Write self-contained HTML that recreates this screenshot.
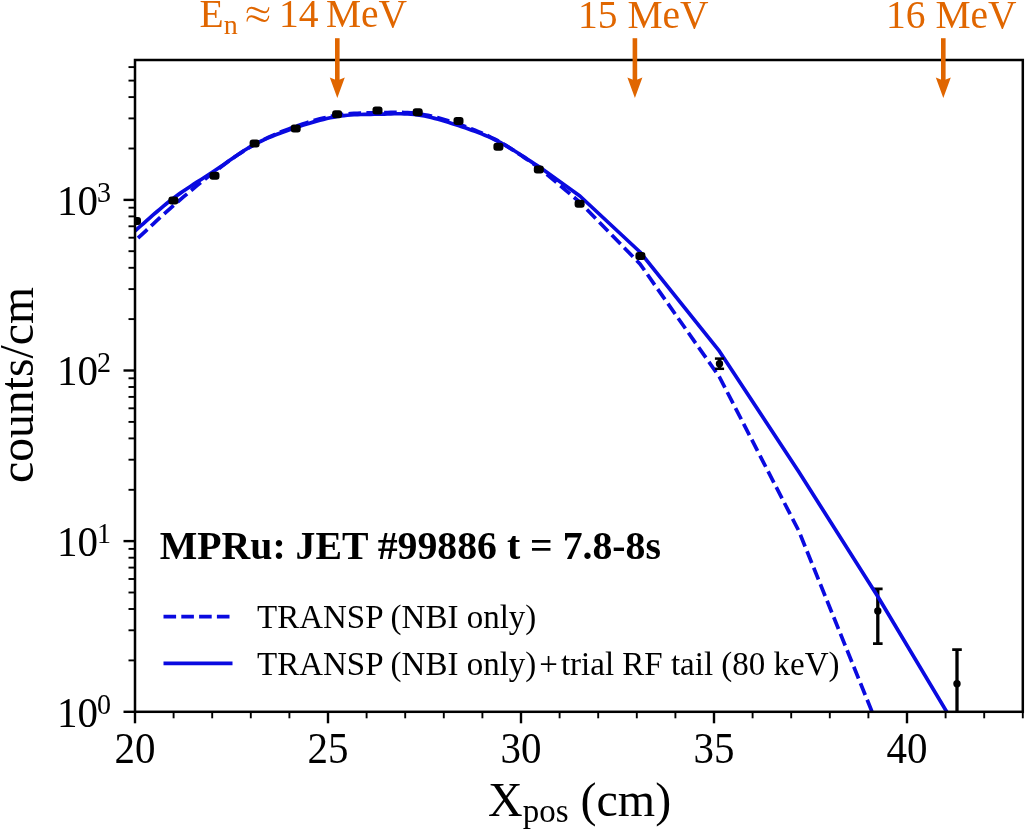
<!DOCTYPE html>
<html><head><meta charset="utf-8"><style>
html,body{margin:0;padding:0;background:#fff;}
svg{display:block;}
text{font-family:"Liberation Serif","Times New Roman",serif;}
</style></head><body>
<svg width="1025" height="831" viewBox="0 0 1025 831">
<rect width="1025" height="831" fill="#fff"/>
<defs><clipPath id="ax"><rect x="135.0" y="60.0" width="887.8" height="651.8"/></clipPath></defs>
<g clip-path="url(#ax)">
<g stroke="#000" stroke-width="3.3" fill="none"><line x1="877.8" y1="588.9" x2="877.8" y2="643.7"/><line x1="873.0" y1="588.9" x2="882.5999999999999" y2="588.9" stroke-width="2.7"/><line x1="873.0" y1="643.7" x2="882.5999999999999" y2="643.7" stroke-width="2.7"/><line x1="957.0" y1="649.6" x2="957.0" y2="720.0"/><line x1="952.2" y1="649.6" x2="961.8" y2="649.6" stroke-width="2.7"/><line x1="719.5" y1="358.6" x2="719.5" y2="368.8"/></g>
<path d="M125.00,250.12 L125.45,249.71 L125.89,249.30 L126.36,248.87 L126.87,248.39 L127.47,247.85 L128.16,247.21 L128.99,246.45 L129.97,245.55 L131.14,244.47 L132.51,243.21 L134.12,241.73 L136.00,240.00 L138.18,237.98 L140.66,235.66 L143.41,233.09 L146.37,230.31 L149.52,227.36 L152.82,224.28 L156.22,221.12 L159.68,217.92 L163.17,214.73 L166.65,211.58 L170.07,208.52 L173.40,205.60 L176.70,202.74 L180.05,199.86 L183.44,196.96 L186.86,194.05 L190.31,191.15 L193.78,188.26 L197.26,185.40 L200.74,182.57 L204.21,179.79 L207.67,177.06 L211.10,174.39 L214.50,171.80 L217.87,169.26 L221.23,166.75 L224.57,164.28 L227.90,161.84 L231.23,159.45 L234.55,157.11 L237.87,154.83 L241.20,152.60 L244.53,150.44 L247.87,148.35 L251.23,146.33 L254.60,144.40 L257.99,142.55 L261.39,140.78 L264.80,139.08 L268.21,137.45 L271.64,135.89 L275.07,134.39 L278.50,132.94 L281.94,131.55 L285.38,130.20 L288.82,128.90 L292.26,127.63 L295.70,126.40 L299.14,125.20 L302.59,124.04 L306.05,122.92 L309.51,121.84 L312.98,120.81 L316.44,119.83 L319.91,118.90 L323.36,118.03 L326.81,117.22 L330.25,116.48 L333.68,115.80 L337.10,115.20 L340.50,114.68 L343.89,114.25 L347.28,113.91 L350.65,113.63 L354.01,113.41 L357.38,113.25 L360.73,113.13 L364.09,113.04 L367.44,112.97 L370.79,112.91 L374.14,112.86 L377.50,112.80 L380.86,112.72 L384.20,112.63 L387.55,112.55 L390.89,112.47 L394.23,112.41 L397.57,112.39 L400.92,112.41 L404.26,112.49 L407.61,112.64 L410.97,112.86 L414.33,113.18 L417.70,113.60 L421.08,114.12 L424.48,114.73 L427.88,115.42 L431.30,116.18 L434.71,117.01 L438.13,117.90 L441.55,118.85 L444.96,119.84 L448.36,120.88 L451.76,121.96 L455.14,123.07 L458.50,124.20 L461.84,125.35 L465.17,126.53 L468.48,127.74 L471.78,128.98 L475.07,130.27 L478.36,131.61 L481.65,133.00 L484.94,134.45 L488.24,135.97 L491.54,137.57 L494.86,139.24 L498.20,141.00 L501.68,142.95 L505.38,145.16 L509.24,147.56 L513.17,150.10 L517.11,152.70 L520.98,155.30 L524.72,157.85 L528.24,160.27 L531.48,162.51 L534.37,164.50 L536.84,166.19 L538.80,167.50 L579.90,202.30 L640.00,263.90 L719.40,376.90 L798.60,530.50 L877.80,726.00" fill="none" stroke="#0a0ae0" stroke-width="3.7" stroke-dasharray="12.6 5.2"/>
<path d="M125.00,239.35 L125.45,238.97 L125.89,238.60 L126.36,238.20 L126.87,237.76 L127.47,237.26 L128.16,236.66 L128.99,235.96 L129.97,235.13 L131.14,234.14 L132.51,232.97 L134.12,231.60 L136.00,230.00 L138.18,228.12 L140.66,225.95 L143.41,223.53 L146.37,220.90 L149.52,218.12 L152.82,215.23 L156.22,212.27 L159.68,209.31 L163.17,206.37 L166.65,203.51 L170.07,200.77 L173.40,198.20 L176.70,195.76 L180.05,193.37 L183.44,191.02 L186.86,188.70 L190.31,186.42 L193.78,184.16 L197.26,181.92 L200.74,179.70 L204.21,177.48 L207.67,175.26 L211.10,173.03 L214.50,170.80 L217.87,168.53 L221.23,166.23 L224.57,163.90 L227.90,161.57 L231.23,159.24 L234.55,156.94 L237.87,154.67 L241.20,152.45 L244.53,150.30 L247.87,148.23 L251.23,146.26 L254.60,144.40 L257.99,142.65 L261.39,140.98 L264.80,139.39 L268.21,137.88 L271.64,136.43 L275.07,135.04 L278.50,133.71 L281.94,132.42 L285.38,131.17 L288.82,129.96 L292.26,128.77 L295.70,127.60 L299.14,126.45 L302.59,125.32 L306.05,124.22 L309.51,123.15 L312.98,122.13 L316.44,121.14 L319.91,120.21 L323.36,119.34 L326.81,118.52 L330.25,117.77 L333.68,117.10 L337.10,116.50 L340.50,115.99 L343.89,115.57 L347.28,115.24 L350.65,114.97 L354.01,114.77 L357.38,114.61 L360.73,114.50 L364.09,114.42 L367.44,114.36 L370.79,114.31 L374.14,114.26 L377.50,114.20 L380.86,114.12 L384.20,114.03 L387.55,113.93 L390.89,113.84 L394.23,113.77 L397.57,113.74 L400.92,113.75 L404.26,113.81 L407.61,113.95 L410.97,114.17 L414.33,114.48 L417.70,114.90 L421.08,115.43 L424.48,116.05 L427.88,116.75 L431.30,117.54 L434.71,118.39 L438.13,119.31 L441.55,120.27 L444.96,121.29 L448.36,122.33 L451.76,123.41 L455.14,124.50 L458.50,125.60 L461.84,126.71 L465.17,127.83 L468.48,128.97 L471.78,130.14 L475.07,131.35 L478.36,132.59 L481.65,133.89 L484.94,135.25 L488.24,136.67 L491.54,138.16 L494.86,139.74 L498.20,141.40 L501.68,143.25 L505.38,145.35 L509.24,147.63 L513.17,150.04 L517.11,152.51 L520.98,154.99 L524.72,157.41 L528.24,159.72 L531.48,161.85 L534.37,163.75 L536.84,165.35 L538.80,166.60 L579.90,196.00 L640.00,252.00 L719.40,351.20 L798.60,471.50 L877.80,596.50 L957.00,729.00" fill="none" stroke="#0a0ae0" stroke-width="3.7" stroke-linejoin="round"/>
<g stroke="#000" stroke-width="2.5"><line x1="714.9" y1="358.6" x2="724.1" y2="358.6"/><line x1="714.9" y1="368.8" x2="724.1" y2="368.8"/></g>
<g fill="#000"><rect x="131.0" y="217.0" width="10" height="8.0" rx="3"/><rect x="168.4" y="196.4" width="10" height="8.0" rx="3"/><rect x="209.5" y="171.7" width="10" height="8.0" rx="3"/><rect x="249.6" y="139.6" width="10" height="8.0" rx="3"/><rect x="290.7" y="124.4" width="10" height="8.0" rx="3"/><rect x="332.1" y="110.3" width="10" height="8.0" rx="3"/><rect x="372.5" y="106.6" width="10" height="8.0" rx="3"/><rect x="412.7" y="108.3" width="10" height="8.0" rx="3"/><rect x="453.5" y="116.9" width="10" height="8.0" rx="3"/><rect x="493.4" y="142.7" width="10" height="8.0" rx="3"/><rect x="533.8" y="165.6" width="10" height="8.0" rx="3"/><rect x="574.6" y="199.7" width="10" height="8.0" rx="3"/><rect x="635.4" y="252.1" width="10" height="8.0" rx="3"/><circle cx="719.5" cy="363.7" r="3.7"/><circle cx="877.8" cy="611.0" r="3.7"/><circle cx="957.0" cy="683.7" r="3.7"/></g>
</g>
<g stroke="#000"><line x1="135.0" y1="711.8" x2="135.0" y2="723.3" stroke-width="2.4"/><line x1="173.6" y1="711.8" x2="173.6" y2="718.3" stroke-width="1.9"/><line x1="212.2" y1="711.8" x2="212.2" y2="718.3" stroke-width="1.9"/><line x1="250.8" y1="711.8" x2="250.8" y2="718.3" stroke-width="1.9"/><line x1="289.4" y1="711.8" x2="289.4" y2="718.3" stroke-width="1.9"/><line x1="328.0" y1="711.8" x2="328.0" y2="723.3" stroke-width="2.4"/><line x1="366.6" y1="711.8" x2="366.6" y2="718.3" stroke-width="1.9"/><line x1="405.2" y1="711.8" x2="405.2" y2="718.3" stroke-width="1.9"/><line x1="443.8" y1="711.8" x2="443.8" y2="718.3" stroke-width="1.9"/><line x1="482.4" y1="711.8" x2="482.4" y2="718.3" stroke-width="1.9"/><line x1="521.0" y1="711.8" x2="521.0" y2="723.3" stroke-width="2.4"/><line x1="559.6" y1="711.8" x2="559.6" y2="718.3" stroke-width="1.9"/><line x1="598.2" y1="711.8" x2="598.2" y2="718.3" stroke-width="1.9"/><line x1="636.8" y1="711.8" x2="636.8" y2="718.3" stroke-width="1.9"/><line x1="675.4" y1="711.8" x2="675.4" y2="718.3" stroke-width="1.9"/><line x1="714.0" y1="711.8" x2="714.0" y2="723.3" stroke-width="2.4"/><line x1="752.6" y1="711.8" x2="752.6" y2="718.3" stroke-width="1.9"/><line x1="791.2" y1="711.8" x2="791.2" y2="718.3" stroke-width="1.9"/><line x1="829.8" y1="711.8" x2="829.8" y2="718.3" stroke-width="1.9"/><line x1="868.4" y1="711.8" x2="868.4" y2="718.3" stroke-width="1.9"/><line x1="907.0" y1="711.8" x2="907.0" y2="723.3" stroke-width="2.4"/><line x1="945.6" y1="711.8" x2="945.6" y2="718.3" stroke-width="1.9"/><line x1="984.2" y1="711.8" x2="984.2" y2="718.3" stroke-width="1.9"/><line x1="1022.8" y1="711.8" x2="1022.8" y2="718.3" stroke-width="1.9"/><line x1="123.5" y1="711.8" x2="135.0" y2="711.8" stroke-width="2.4"/><line x1="128.5" y1="660.4" x2="135.0" y2="660.4" stroke-width="1.9"/><line x1="128.5" y1="630.3" x2="135.0" y2="630.3" stroke-width="1.9"/><line x1="128.5" y1="609.0" x2="135.0" y2="609.0" stroke-width="1.9"/><line x1="128.5" y1="592.5" x2="135.0" y2="592.5" stroke-width="1.9"/><line x1="128.5" y1="579.0" x2="135.0" y2="579.0" stroke-width="1.9"/><line x1="128.5" y1="567.6" x2="135.0" y2="567.6" stroke-width="1.9"/><line x1="128.5" y1="557.7" x2="135.0" y2="557.7" stroke-width="1.9"/><line x1="128.5" y1="548.9" x2="135.0" y2="548.9" stroke-width="1.9"/><line x1="123.5" y1="541.1" x2="135.0" y2="541.1" stroke-width="2.4"/><line x1="128.5" y1="489.8" x2="135.0" y2="489.8" stroke-width="1.9"/><line x1="128.5" y1="459.7" x2="135.0" y2="459.7" stroke-width="1.9"/><line x1="128.5" y1="438.4" x2="135.0" y2="438.4" stroke-width="1.9"/><line x1="128.5" y1="421.9" x2="135.0" y2="421.9" stroke-width="1.9"/><line x1="128.5" y1="408.3" x2="135.0" y2="408.3" stroke-width="1.9"/><line x1="128.5" y1="396.9" x2="135.0" y2="396.9" stroke-width="1.9"/><line x1="128.5" y1="387.0" x2="135.0" y2="387.0" stroke-width="1.9"/><line x1="128.5" y1="378.3" x2="135.0" y2="378.3" stroke-width="1.9"/><line x1="123.5" y1="370.5" x2="135.0" y2="370.5" stroke-width="2.4"/><line x1="128.5" y1="319.1" x2="135.0" y2="319.1" stroke-width="1.9"/><line x1="128.5" y1="289.1" x2="135.0" y2="289.1" stroke-width="1.9"/><line x1="128.5" y1="267.8" x2="135.0" y2="267.8" stroke-width="1.9"/><line x1="128.5" y1="251.2" x2="135.0" y2="251.2" stroke-width="1.9"/><line x1="128.5" y1="237.7" x2="135.0" y2="237.7" stroke-width="1.9"/><line x1="128.5" y1="226.3" x2="135.0" y2="226.3" stroke-width="1.9"/><line x1="128.5" y1="216.4" x2="135.0" y2="216.4" stroke-width="1.9"/><line x1="128.5" y1="207.7" x2="135.0" y2="207.7" stroke-width="1.9"/><line x1="123.5" y1="199.9" x2="135.0" y2="199.9" stroke-width="2.4"/><line x1="128.5" y1="148.5" x2="135.0" y2="148.5" stroke-width="1.9"/><line x1="128.5" y1="118.4" x2="135.0" y2="118.4" stroke-width="1.9"/><line x1="128.5" y1="97.1" x2="135.0" y2="97.1" stroke-width="1.9"/><line x1="128.5" y1="80.6" x2="135.0" y2="80.6" stroke-width="1.9"/><line x1="128.5" y1="67.1" x2="135.0" y2="67.1" stroke-width="1.9"/></g>
<rect x="135.0" y="60.0" width="887.8" height="651.8" fill="none" stroke="#000" stroke-width="2.5"/>
<g font-size="41" fill="#000"><text x="135.0" y="0" text-anchor="middle" transform="translate(0,762.5) scale(1,1.065)">20</text><text x="328.0" y="0" text-anchor="middle" transform="translate(0,762.5) scale(1,1.065)">25</text><text x="521.0" y="0" text-anchor="middle" transform="translate(0,762.5) scale(1,1.065)">30</text><text x="714.0" y="0" text-anchor="middle" transform="translate(0,762.5) scale(1,1.065)">35</text><text x="907.0" y="0" text-anchor="middle" transform="translate(0,762.5) scale(1,1.065)">40</text></g>
<g font-size="41" fill="#000"><text x="111" y="0" text-anchor="end" transform="translate(0,726.5) scale(1,1.05)">10<tspan font-size="28" dx="-1" dy="-12.2">0</tspan></text><text x="111" y="0" text-anchor="end" transform="translate(0,555.9) scale(1,1.05)">10<tspan font-size="28" dx="-1" dy="-12.2">1</tspan></text><text x="111" y="0" text-anchor="end" transform="translate(0,385.3) scale(1,1.05)">10<tspan font-size="28" dx="-1" dy="-12.2">2</tspan></text><text x="111" y="0" text-anchor="end" transform="translate(0,214.7) scale(1,1.05)">10<tspan font-size="28" dx="-1" dy="-12.2">3</tspan></text></g>
<text transform="translate(32.6,385) rotate(-90)" text-anchor="middle" font-size="47.7" fill="#000">counts/cm</text>
<text x="488" y="815.8" font-size="48" fill="#000">X<tspan font-size="33" dy="6">pos</tspan><tspan dy="-6"> (cm)</tspan></text>
<text x="159.8" y="559" font-size="39.75" font-weight="bold" fill="#000">MPRu: JET #99886 t = 7.8-8s</text>
<line x1="163.5" y1="616.7" x2="232.5" y2="616.7" stroke="#0a0ae0" stroke-width="3.7" stroke-dasharray="12.6 5.2"/>
<line x1="163.5" y1="663.4" x2="232.5" y2="663.4" stroke="#0a0ae0" stroke-width="3.7"/>
<text x="257" y="628.4" font-size="33" fill="#000">TRANSP (NBI only)</text>
<text x="257" y="675.1" font-size="33" fill="#000">TRANSP (NBI only)<tspan dx="3">+</tspan><tspan dx="3">trial RF tail (80 keV)</tspan></text>
<line x1="337.3" y1="38.2" x2="337.3" y2="90.0" stroke="#e06600" stroke-width="4.6"/><path d="M329.8,77.5 L337.3,80.5 L344.8,77.5 L337.3,98.0 Z" fill="#e06600"/><line x1="634.9" y1="38.2" x2="634.9" y2="90.0" stroke="#e06600" stroke-width="4.6"/><path d="M627.4,77.5 L634.9,80.5 L642.4,77.5 L634.9,98.0 Z" fill="#e06600"/><line x1="943.3" y1="38.2" x2="943.3" y2="90.0" stroke="#e06600" stroke-width="4.6"/><path d="M935.8,77.5 L943.3,80.5 L950.8,77.5 L943.3,98.0 Z" fill="#e06600"/>
<g font-size="39.5" fill="#e06600">
<text x="199.5" y="27">E<tspan font-size="28" dy="7">n</tspan></text>
<text x="242.3" y="27" style="font-family:'WenQuanYi Zen Hei',sans-serif">≈</text>
<text x="279" y="27.3">14<tspan dx="-2.5"> MeV</tspan></text>
<text x="578" y="27.8">15 MeV</text>
<text x="886" y="27.8">16 MeV</text>
</g>
</svg>
</body></html>
